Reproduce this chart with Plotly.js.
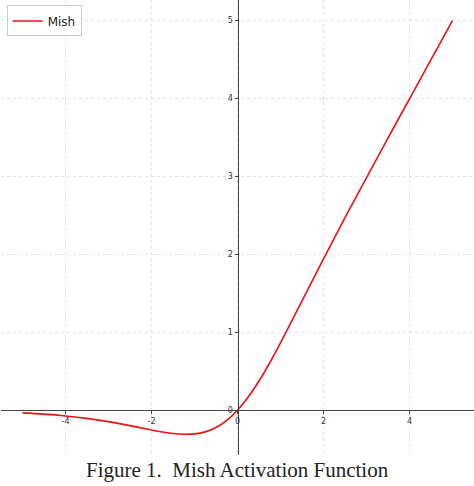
<!DOCTYPE html>
<html>
<head>
<meta charset="utf-8">
<script src="https://cdn.plot.ly/plotly-3.0.1.min.js"></script>
<style>
  html, body { margin: 0; padding: 0; background: #fff; }
  #chart { width: 474px; height: 486px; }
</style>
</head>
<body>
<div id="chart"></div>
<script>
// values
const xVals = [-5, -4.5, -4, -3.5, -3, -2.5, -2, -1.75, -1.5, -1.25, -1, -0.75, -0.5, -0.25,
  0, 0.25, 0.5, 0.75, 1, 1.5, 2, 2.5, 3, 3.5, 4, 4.5, 5];
const mishVals = [-0.034, -0.050, -0.073, -0.104, -0.146, -0.197, -0.253, -0.278, -0.298, -0.308, -0.303, -0.277, -0.221, -0.130,
  0, 0.170, 0.375, 0.610, 0.865, 1.403, 1.944, 2.471, 2.987, 3.494, 3.997, 4.499, 5.0];
const xTicks = [-4, -2, 0, 2, 4];
const yTicks = [0, 1, 2, 3, 4, 5];

const xRange = [-5.5, 5.5];
const yRange = [-0.574, 5.265];
// axes cross at the origin, like centred spines
const xAxisPos = (0 - yRange[0]) / (yRange[1] - yRange[0]);
const yAxisPos = (0 - xRange[0]) / (xRange[1] - xRange[0]);

const mish = {
  x: xVals,
  y: mishVals,
  type: 'scatter',
  mode: 'lines',
  name: 'Mish',
  line: { color: '#ee1111', width: 1.6, shape: 'spline' },
};

const tickFont = { family: 'DejaVu Sans, sans-serif', size: 8, color: '#333' };

const layout = {
  width: 474,
  height: 486,
  margin: { l: 1, r: 0, t: 0, b: 31 },
  paper_bgcolor: '#fff',
  plot_bgcolor: '#fff',
  showlegend: true,
  legend: {
    x: 0.012, y: 0.988, xanchor: 'left', yanchor: 'top',
    bordercolor: '#ccc', borderwidth: 1, bgcolor: '#fff',
    font: { family: 'DejaVu Sans, sans-serif', size: 12, color: '#222' },
  },
  xaxis: {
    range: xRange,
    tickvals: xTicks,
    ticktext: xTicks.map(String),
    anchor: 'free',
    position: xAxisPos,
    showline: true, linecolor: '#444', linewidth: 1,
    ticks: 'outside', ticklen: 3, tickcolor: '#444',
    tickfont: tickFont,
    showgrid: true, gridcolor: '#e2e2e2', griddash: 'dot', gridwidth: 1,
    zeroline: false,
  },
  yaxis: {
    range: yRange,
    tickvals: yTicks,
    ticktext: yTicks.map(String),
    anchor: 'free',
    position: yAxisPos,
    showline: true, linecolor: '#444', linewidth: 1,
    ticks: 'outside', ticklen: 3, tickcolor: '#444',
    tickfont: tickFont,
    showgrid: true, gridcolor: '#e2e2e2', griddash: 'dot', gridwidth: 1,
    zeroline: false,
  },
  annotations: [{
    text: 'Figure 1.  Mish Activation Function',
    xref: 'paper', yref: 'paper',
    x: 0.5, y: -0.003, xanchor: 'center', yanchor: 'top',
    showarrow: false,
    font: { family: 'Liberation Serif, serif', size: 21, color: '#222' },
  }],
};

Plotly.newPlot('chart', [mish], layout, { displayModeBar: false, staticPlot: true });
</script>
</body>
</html>
